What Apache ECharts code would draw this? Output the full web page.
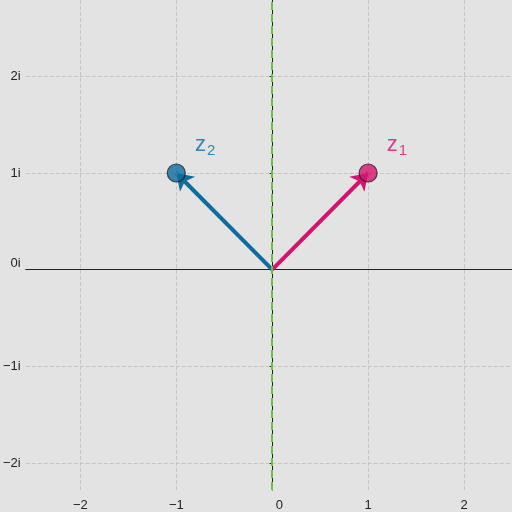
<!DOCTYPE html>
<html>
<head>
<meta charset="UTF-8">
<script src="https://cdn.jsdelivr.net/npm/echarts@6/dist/echarts.min.js"></script>
<style>html,body{margin:0;padding:0;background:#e3e3e3}#main{width:512px;height:512px}</style>
</head>
<body>
<div id="main"></div>
<script>
    // complex numbers as [re, im]
    var pointNames = ['z1', 'z2'];
    var pointValues = [[1, 1], [-1, 1]];
    var pointColors = ['#d4136e', '#0e6c9e'];
    var origin = [0, 0];
    var xTicks = [-2, -1, 0, 1, 2];
    var yTicks = [-2, -1, 0, 1, 2];

    var myChart = echarts.init(document.getElementById('main'));

    var series = [];
    pointValues.forEach(function (p, i) {
        series.push({
            type: 'lines',
            coordinateSystem: 'cartesian2d',
            symbol: ['none', 'arrow'],
            symbolSize: 16,
            lineStyle: {color: pointColors[i], width: 4, opacity: 1},
            data: [{coords: [origin, p]}],
            z: 3
        });
        series.push({
            type: 'scatter',
            symbolSize: 18,
            itemStyle: {color: pointColors[i], borderColor: '#222', borderWidth: 1.2},
            label: {
                show: true,
                position: 'right',
                offset: [4, -28],
                formatter: '{a|z}{b|' + pointNames[i].slice(1) + '}',
                rich: {
                    a: {fontSize: 22, color: pointColors[i], fontFamily: 'Liberation Sans'},
                    b: {fontSize: 15, color: pointColors[i], padding: [12, 0, 0, 1], fontFamily: 'Liberation Sans'}
                }
            },
            data: [p],
            z: 5
        });
    });
    // dashed grid lines
    var gridLines = [];
    xTicks.forEach(function (v) { if (v !== 0) gridLines.push({xAxis: v}); });
    yTicks.forEach(function (v) { if (v !== 0) gridLines.push({yAxis: v}); });
    series.push({
        type: 'line',
        data: [],
        z: 1,
        markLine: {
            silent: true, symbol: 'none', label: {show: false},
            lineStyle: {color: '#c4c4c4', type: 'dashed', width: 1},
            data: gridLines
        }
    });
    series.push({
        type: 'line',
        data: [],
        z: 2,
        markLine: {
            silent: true, symbol: 'none', label: {show: false},
            lineStyle: {color: '#6cc04a', type: 'dashed', width: 2},
            data: [{xAxis: 0}]
        }
    });

    var option = {
        backgroundColor: '#e3e3e3',
        animation: false,
        grid: {left: 0, right: 0, top: 0, bottom: 0},
        xAxis: {
            type: 'value', min: -2.57, max: 2.5,
            axisLine: {onZero: true, lineStyle: {color: '#222', width: 1}},
            axisTick: {show: true, length: 4, customValues: xTicks, lineStyle: {color: '#222'}},
            axisLabel: {color: '#222', fontSize: 13, margin: 9, customValues: xTicks,
                formatter: function (v) { return v === 0 ? '    0' : (v < 0 ? '\u2212' + (-v) : v); }},
            splitLine: {show: false}
        },
        yAxis: {
            type: 'value', min: -2.28, max: 2.79,
            axisLine: {onZero: true, lineStyle: {color: '#222', width: 1}},
            axisTick: {show: true, length: 4, customValues: yTicks, lineStyle: {color: '#222'}},
            axisLabel: {color: '#222', fontSize: 13, margin: 5, customValues: yTicks,
                formatter: function (v) { return v === 0 ? '0i\n ' : (v < 0 ? '\u2212' + (-v) : v) + 'i'; }},
            splitLine: {show: false}
        },
        series: series
    };

    myChart.setOption(option);
</script>
</body>
</html>
